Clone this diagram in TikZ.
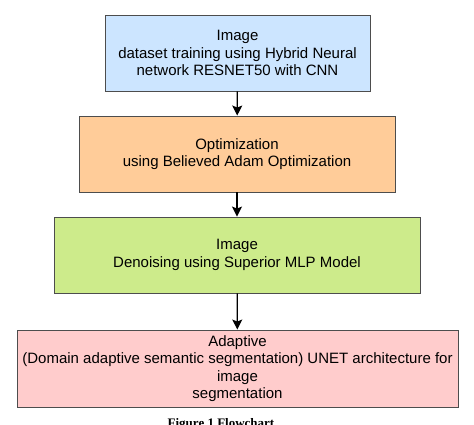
\documentclass[tikz,border=0pt]{standalone}
\usepackage{fontspec}
\setmainfont{Liberation Sans}
\newfontfamily\captionfont{Liberation Serif}
\usepackage{xcolor}
\usetikzlibrary{arrows.meta, positioning}
\definecolor{boxblue}{HTML}{CCE5FF}
\definecolor{boxpeach}{HTML}{FFCC99}
\definecolor{boxgreen}{HTML}{CDEB8B}
\definecolor{boxpink}{HTML}{FFCCCC}
\definecolor{boxline}{HTML}{4D4D4D}
\tikzset{
  stage/.style={draw=boxline, line width=0.9pt, align=center, minimum height=76pt,
    inner sep=2pt, font=\fontsize{15}{17.5}\selectfont},
  flow/.style={-{Stealth[length=10pt,width=10pt,inset=2pt]}, line width=1.2pt, black}
}

\begin{document}
\begin{tikzpicture}[x=1pt, y=-1pt]
  % Page frame
  \useasboundingbox (0,0) rectangle (474,424);

  % Flow stages
  \node[stage, fill=boxblue, minimum width=265pt] (train) at (237.5,53)
    {Image\\dataset training using Hybrid Neural\\network RESNET50 with CNN};
  \node[stage, fill=boxpeach, minimum width=316pt] (optim) at (237,154)
    {Optimization\\using Believed Adam Optimization};
  \node[stage, fill=boxgreen, minimum width=366pt] (denoise) at (237,255)
    {Image\\Denoising using Superior MLP Model};
  \node[stage, fill=boxpink, minimum width=441pt, minimum height=77pt] (segment) at (237.5,368.5)
    {Adaptive\\(Domain adaptive semantic segmentation) UNET architecture for\\image\\segmentation};

  % Connectors
  \draw[flow] (train) -- (optim);
  \draw[flow] (optim) -- (denoise);
  \draw[flow] (denoise) -- (segment);

  % Caption
  \node[font=\captionfont\bfseries\fontsize{13}{13}\selectfont, anchor=north, inner sep=0pt] (caption) at (221,418.5)
    {Figure 1 Flowchart};
\end{tikzpicture}
\end{document}
